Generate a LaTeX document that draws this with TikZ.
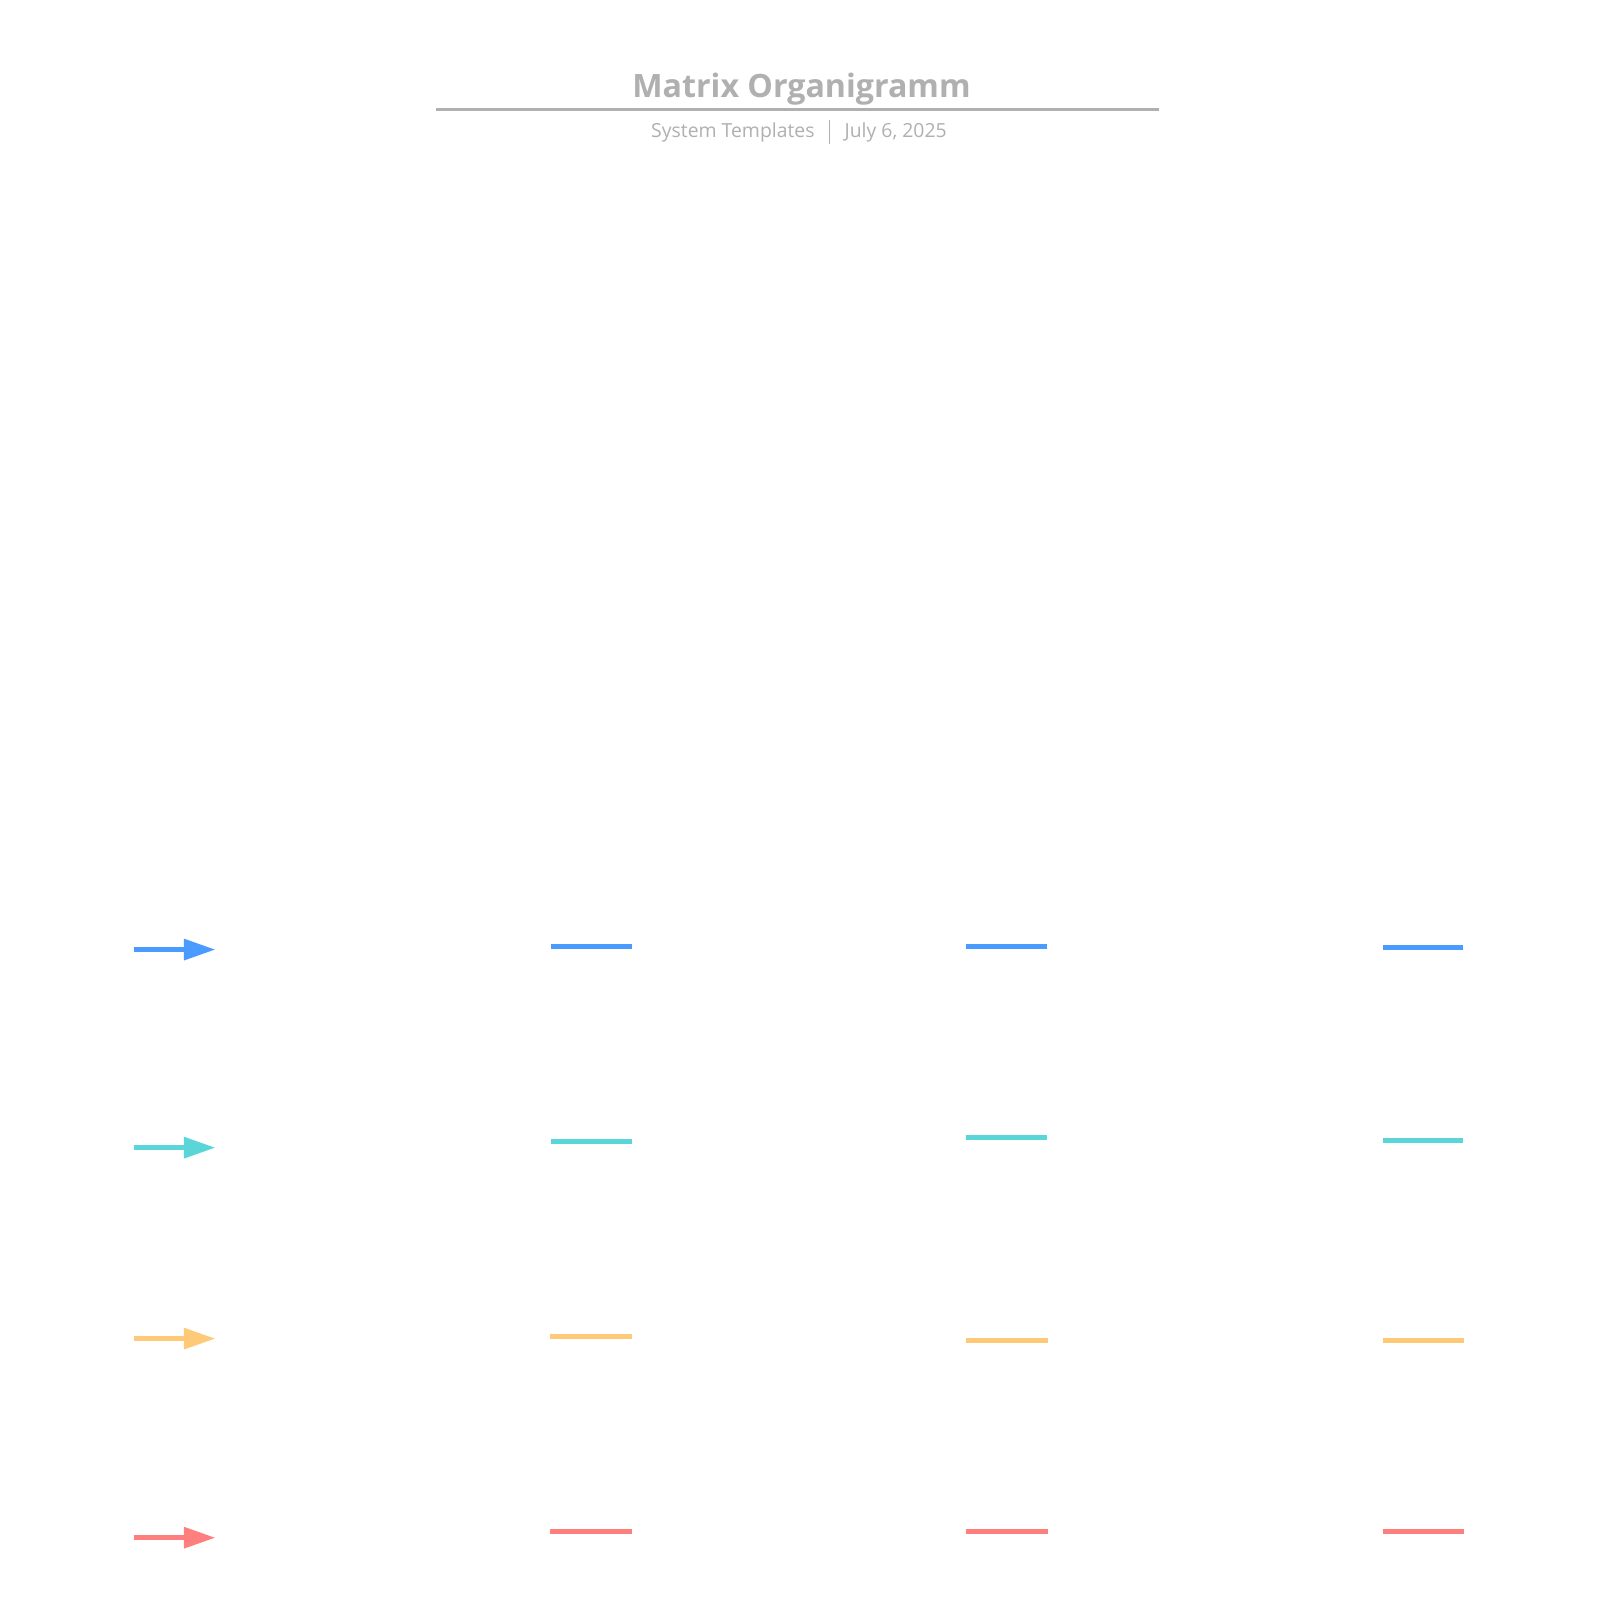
\documentclass[tikz,border=0pt]{standalone}
\usepackage{fontspec}
\setmainfont{Open Sans}
\usetikzlibrary{arrows.meta}
\definecolor{cblue}{HTML}{4A9BFF}
\definecolor{cteal}{HTML}{5AD6D9}
\definecolor{corange}{HTML}{FFCA78}
\definecolor{cred}{HTML}{FF7F7F}
\definecolor{cgray}{HTML}{B0B0B0}
\begin{document}
\begin{tikzpicture}[x=1pt,y=-1pt,
  arrowline/.style={line width=5pt,-{Triangle[length=31pt,width=20pt]}},
  barline/.style={line width=5.5pt},
  ttl/.style={inner sep=0pt,text=cgray,font=\fontsize{31.5}{36}\selectfont\bfseries},
  sub/.style={inner sep=0pt,text=cgray,font=\fontsize{19}{22}\selectfont}]
\useasboundingbox[fill=white] (0,0) rectangle (1568,1568);
\node[ttl] (title) at (785,87) {Matrix Organigramm};
\coordinate (rl) at (427,107);
\coordinate (rr) at (1135,107);
\draw[cgray,line width=2.5pt] (rl) -- (rr);
\node[sub,anchor=east] (s1) at (798,130) {System Templates};
\node[sub,anchor=west] (s2) at (827,130) {July 6, 2025};
\coordinate (sepT) at (812,118);
\coordinate (sepB) at (812,141);
\draw[cgray,line width=1pt] (sepT) -- (sepB);
% arrows
\foreach \c/\y/\n in {cblue/930/a1,cteal/1124/a2,corange/1311/a3,cred/1506/a4}{
  \coordinate (\n s) at (131,\y);
  \coordinate (\n e) at (211,\y);
  \draw[arrowline,\c] (\n s) -- (\n e);
}
% bars
\foreach \c/\xa/\xb/\y/\n in {
  cblue/540/619/927/b12, cblue/946/1025/927/b13, cblue/1354/1433/928/b14,
  cteal/540/619/1118/b22, cteal/946/1025/1114/b23, cteal/1354/1433/1117/b24,
  corange/539/619/1309/b32, corange/946/1026/1313/b33, corange/1354/1434/1313/b34,
  cred/539/619/1500/b42, cred/946/1026/1500/b43, cred/1354/1434/1500/b44}{
  \coordinate (\n s) at (\xa,\y);
  \coordinate (\n e) at (\xb,\y);
  \draw[barline,\c] (\n s) -- (\n e);
}
\end{tikzpicture}
\end{document}
